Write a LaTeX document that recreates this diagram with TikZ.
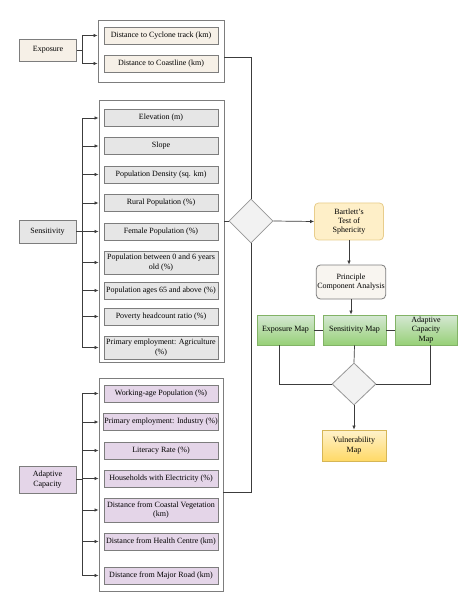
\documentclass[tikz,border=0pt]{standalone}
\usepackage{fontspec}
\setmainfont{Liberation Serif}
\usetikzlibrary{arrows.meta, positioning, shapes.geometric, calc}
\definecolor{expbeige}{RGB}{246,240,231}
\definecolor{sensgray}{RGB}{230,230,230}
\definecolor{adaptlilac}{RGB}{228,213,232}
\definecolor{boxline}{RGB}{125,125,125}
\definecolor{wireline}{RGB}{60,60,60}
\definecolor{bartyellow}{RGB}{254,239,200}
\definecolor{bartline}{RGB}{232,205,140}
\definecolor{pcabeige}{RGB}{248,245,240}
\definecolor{maplight}{RGB}{213,232,212}
\definecolor{mapdark}{RGB}{151,208,119}
\definecolor{mapline}{RGB}{130,179,102}
\definecolor{vullight}{RGB}{255,242,204}
\definecolor{vuldark}{RGB}{255,217,102}
\definecolor{vulline}{RGB}{214,182,86}
\definecolor{hubfill}{RGB}{242,242,242}

\begin{document}
\begin{tikzpicture}[
  x=1pt, y=-1pt,
  every node/.style={font=\fontsize{8}{9.4}\selectfont, align=center, inner sep=1pt},
  group/.style={draw=boxline, line width=0.9pt, fill=white},
  item/.style={draw=boxline, line width=0.8pt, minimum width=114pt, minimum height=17pt},
  head/.style={draw=boxline, line width=0.8pt, minimum width=57pt, minimum height=22pt},
  hub/.style={diamond, draw=boxline!80, line width=0.8pt, fill=hubfill, inner sep=0pt,
              minimum width=44pt, minimum height=44pt},
  mapbox/.style={draw=mapline, line width=0.8pt, top color=maplight, bottom color=mapdark,
                 minimum height=30pt},
  wire/.style={draw=wireline, line width=0.7pt},
  arr/.style={wire, -{Latex[length=4pt,width=3.5pt]}},
]
  \fill[white] (0,0) rectangle (474,601);
  \useasboundingbox (0,0) rectangle (474,601);

  % exposure
  \node[group, minimum width=126pt, minimum height=62pt] (expgroup) at (161,51) {};
  \node[item, fill=expbeige] (e1) at (161,35.5) {Distance to Cyclone track (km)};
  \node[item, fill=expbeige] (e2) at (161,63.5) {Distance to Coastline (km)};
  \node[head, fill=expbeige] (exp) at (48,50) {Exposure};

  % sensitivity
  \node[group, minimum width=125pt, minimum height=262pt] (sgroup) at (161.5,231) {};
  \node[item, fill=sensgray] (s1) at (161,118) {Elevation (m)};
  \node[item, fill=sensgray] (s2) at (161,146) {Slope};
  \node[item, fill=sensgray] (s3) at (161,174.5) {Population Density (sq. km)};
  \node[item, fill=sensgray] (s4) at (161,203) {Rural Population (\%)};
  \node[item, fill=sensgray] (s5) at (161,231.5) {Female Population (\%)};
  \node[item, fill=sensgray, minimum height=23pt] (s6) at (161,262.5)
    {Population between 0 and 6 years\\old (\%)};
  \node[item, fill=sensgray] (s7) at (161,290.5) {Population ages 65 and above (\%)};
  \node[item, fill=sensgray] (s8) at (161,316.5) {Poverty headcount ratio (\%)};
  \node[item, fill=sensgray, minimum height=23pt] (s9) at (161,347.5)
    {Primary employment: Agriculture\\(\%)};
  \node[head, fill=sensgray, minimum height=23pt] (sens) at (47.5,231.5) {Sensitivity};

  % adaptive capacity
  \node[group, minimum width=124pt, minimum height=213pt] (agroup) at (161,484.5) {};
  \node[item, fill=adaptlilac] (a1) at (161,393.5) {Working-age Population (\%)};
  \node[item, fill=adaptlilac] (a2) at (161,422) {Primary employment: Industry (\%)};
  \node[item, fill=adaptlilac] (a3) at (161,450.5) {Literacy Rate (\%)};
  \node[item, fill=adaptlilac] (a4) at (161,478.5) {Households with Electricity (\%)};
  \node[item, fill=adaptlilac, minimum height=24pt] (a5) at (161,510)
    {Distance from Coastal Vegetation\\(km)};
  \node[item, fill=adaptlilac] (a6) at (161,541.5) {Distance from Health Centre (km)};
  \node[item, fill=adaptlilac] (a7) at (161,575.5) {Distance from Major Road (km)};
  \node[head, fill=adaptlilac, minimum height=27pt] (adapt) at (47.5,479.5) {Adaptive\\Capacity};

  \foreach \n in {e1,e2}
    \draw[arr] (exp.east) -- ++(5,0) |- (expgroup.west |- \n);
  \foreach \n in {s1,s2,s3,s4,s5,s6,s7,s8,s9}
    \draw[arr] (sens.east) -- ++(6,0) |- (sgroup.west |- \n);
  \foreach \n in {a1,a2,a3,a4,a5,a6,a7}
    \draw[arr] (adapt.east) -- ++(6,0) |- (agroup.west |- \n);

  % right-hand flow
  \node[hub] (hub1) at (251,221) {};
  \node[draw=bartline, line width=0.8pt, fill=bartyellow, rounded corners=4pt,
        minimum width=69pt, minimum height=37pt] (bart) at (349,221.5)
    {Bartlett's\\Test of\\Sphericity};
  \node[draw=boxline, line width=0.8pt, fill=pcabeige, rounded corners=4pt,
        minimum width=69pt, minimum height=34pt] (pca) at (351,282)
    {Principle\\Component Analysis};
  \node[mapbox, minimum width=57pt] (emap) at (285.5,330) {Exposure Map};
  \node[mapbox, minimum width=63pt] (smap) at (354.5,330) {Sensitivity Map};
  \node[mapbox, minimum width=62pt] (amap) at (426,330) {Adaptive\\Capacity\\Map};
  \node[hub, minimum height=42pt] (hub2) at (354,384) {};
  \node[draw=vulline, line width=0.8pt, top color=vullight, bottom color=vuldark,
        minimum width=64pt, minimum height=31pt] (vmap) at (354,445.5)
    {Vulnerability\\Map};

  \draw[wire] ([yshift=-6pt]expgroup.east) -| (hub1.north);
  \draw[wire] (sgroup.east |- hub1) -- (hub1.west);
  \draw[wire] ([yshift=-7.5pt]agroup.east) -| (hub1.south);
  \draw[arr] (hub1.east) -- (bart.west);
  \draw[arr] (bart.south) -- (bart.south |- pca.north);
  \draw[arr] (pca.south) -- (pca.south |- smap.north);
  \draw[wire] (emap.east) -- (smap.west);
  \draw[wire] (smap.east) -- (amap.west);
  \draw[wire] ([xshift=-6.5pt]emap.south) |- (hub2.west);
  \draw[wire] (smap.south) -- (hub2.north);
  \draw[wire] ([xshift=4pt]amap.south) |- (hub2.east);
  \draw[arr] (hub2.south) -- (vmap.north);
\end{tikzpicture}
\end{document}
